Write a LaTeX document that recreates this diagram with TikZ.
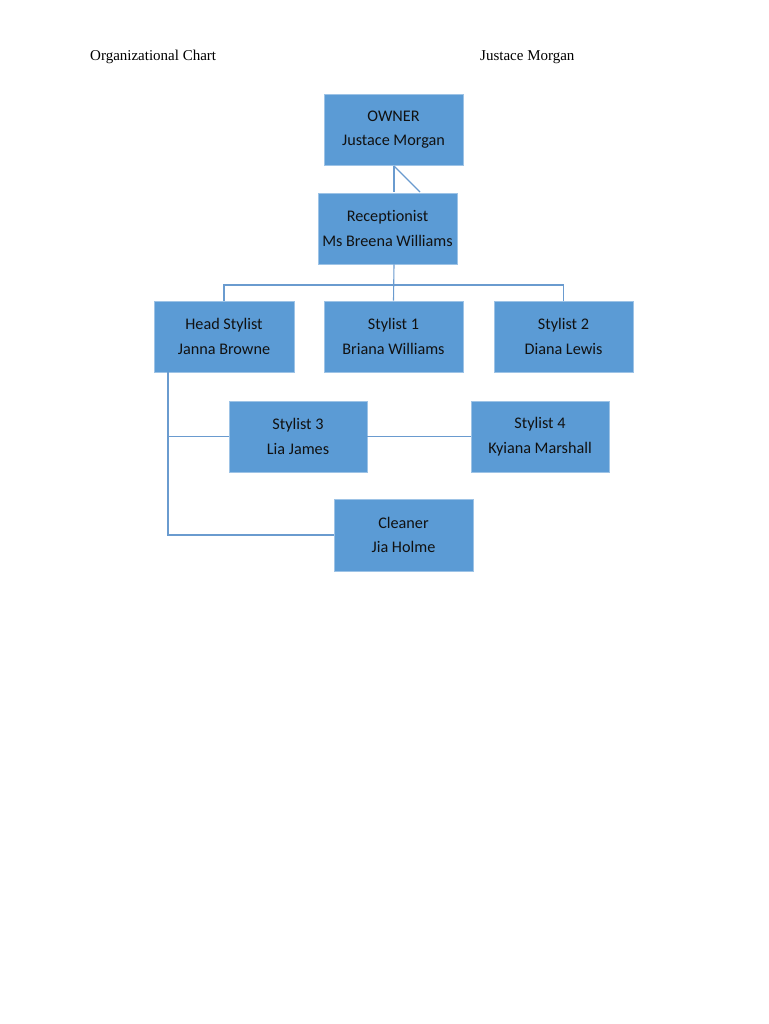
\documentclass[tikz,border=0pt]{standalone}
\usepackage{fontspec}
\setmainfont[Ligatures={NoCommon}]{Carlito}
\newfontfamily\hdrfont{Liberation Serif}
\definecolor{boxfill}{HTML}{5B9BD5}
\definecolor{linec}{HTML}{6A9BCF}
\definecolor{txt}{HTML}{111111}
\begin{document}
\begin{tikzpicture}[x=1pt,y=-1pt,
  orgbox/.style={draw=boxfill!60!white,line width=0.8pt,fill=boxfill,minimum width=139pt,minimum height=71pt,inner sep=0pt,align=center,text=txt,font=\fontsize{16.2}{24.5}\selectfont},
  conn/.style={draw=linec,line width=1.1pt},
  hdr/.style={anchor=base west,inner sep=0pt,font=\hdrfont\fontsize{15}{18}\selectfont,text=black}]
\useasboundingbox[fill=white] (0,0) rectangle (768,1024);
\node[hdr] (h1) at (90,60.5) {Organizational Chart};
\node[hdr] (h2) at (480,60.5) {Justace Morgan};
\node[orgbox] (owner) at (393.5,129.5) {OWNER\\Justace Morgan};
\node[orgbox] (rec) at (387.5,228.5) {Receptionist\\Ms Breena Williams};
\node[orgbox,minimum width=140pt] (head) at (224,336.5) {Head Stylist\\Janna Browne};
\node[orgbox] (s1) at (393.5,336.5) {Stylist 1\\Briana Williams};
\node[orgbox] (s2) at (563.5,336.5) {Stylist 2\\Diana Lewis};
\node[orgbox,minimum width=138pt] (s3) at (298,436.5) {Stylist 3\\Lia James};
\node[orgbox,minimum width=138pt] (s4) at (540,436.5) {Stylist 4\\Kyiana Marshall};
\node[orgbox,minimum height=72pt] (cl) at (403.5,535) {Cleaner\\Jia Holme};
% owner to receptionist
\coordinate (o1) at (394,166);
\coordinate (r1) at (394,192);
\coordinate (r2) at (420,192);
\draw[conn] (o1) -- (r1);
\draw[conn] (o1) -- (r2);
% receptionist to stylists
\coordinate (bus) at (394,285);
\draw[conn] (rec.south -| bus) -- (s1.north);
\draw[conn] (head.north) |- (bus) -| (s2.north);
% head stylist branch
\coordinate (hl) at (168,372);
\draw[conn] (hl) |- (cl.west);
\draw[conn] (hl |- s3.west) -- (s3.west);
\draw[conn] (s3.east) -- (s4.west);
\end{tikzpicture}
\end{document}
